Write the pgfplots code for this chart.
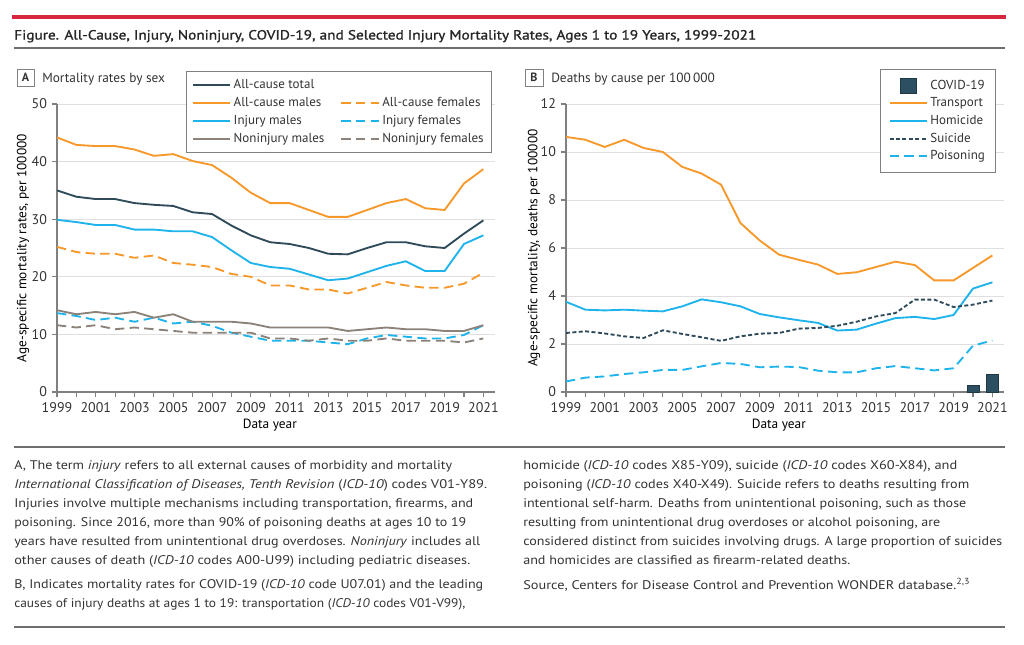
\documentclass[border=0pt]{standalone}
\usepackage{pgfplots}
\pgfplotsset{compat=1.18}
\usepackage{pgfplotstable}
\usepackage{graphicx}
\usepackage{fontspec}
\setmainfont{PT Sans}

\definecolor{slate}{HTML}{2F4B5A}
\definecolor{orng}{HTML}{F7982B}
\definecolor{sky}{HTML}{1FB3EC}
\definecolor{taupe}{HTML}{8C8279}
\definecolor{jamared}{HTML}{D7263D}
\definecolor{rulegray}{HTML}{6E6E6E}
\definecolor{txt}{HTML}{333333}
\definecolor{covid}{HTML}{2C5061}

% panel A: rates by sex
\pgfplotstableread{
year total males females injm injf nonm nonf
1999 35.0 44.2 25.2 29.9 13.7 14.2 11.6
2000 33.9 42.9 24.3 29.5 13.2 13.5 11.2
2001 33.5 42.7 24.0 29.0 12.5 13.9 11.6
2002 33.5 42.7 24.0 29.0 12.9 13.5 10.9
2003 32.8 42.1 23.3 28.2 12.2 13.9 11.2
2004 32.5 41.0 23.7 28.2 12.9 12.9 10.9
2005 32.3 41.3 22.4 27.9 11.9 13.5 10.6
2006 31.2 40.1 22.1 27.9 12.2 12.2 10.3
2007 30.9 39.4 21.7 26.9 11.5 12.2 10.3
2008 28.9 37.2 20.5 24.6 10.3 12.2 10.3
2009 27.2 34.6 20.0 22.4 9.6 11.9 10.3
2010 26.0 32.8 18.5 21.7 8.9 11.2 9.3
2011 25.7 32.8 18.5 21.4 8.9 11.2 9.3
2012 25.0 31.6 17.8 20.4 8.9 11.2 8.9
2013 24.0 30.4 17.8 19.4 8.6 11.2 9.3
2014 23.9 30.4 17.1 19.7 8.3 10.6 8.9
2015 25.0 31.6 18.1 20.8 9.3 10.9 8.9
2016 26.0 32.8 19.1 21.9 9.9 11.2 9.3
2017 26.0 33.5 18.5 22.7 9.6 10.9 8.9
2018 25.3 31.9 18.1 21.0 9.3 10.9 8.9
2019 25.0 31.6 18.1 21.0 9.3 10.6 8.9
2020 27.5 36.2 18.8 25.7 9.9 10.6 8.6
2021 29.8 38.7 20.7 27.2 11.6 11.6 9.3
}\ratesA

% panel B: deaths by cause
\pgfplotstableread{
year transport homicide suicide poisoning
1999 10.63 3.76 2.46 0.44
2000 10.51 3.43 2.53 0.60
2001 10.21 3.40 2.44 0.65
2002 10.51 3.43 2.32 0.75
2003 10.17 3.39 2.25 0.82
2004 10.00 3.36 2.57 0.92
2005 9.38 3.57 2.42 0.92
2006 9.10 3.86 2.28 1.07
2007 8.64 3.74 2.13 1.21
2008 7.04 3.57 2.32 1.17
2009 6.31 3.25 2.43 1.03
2010 5.72 3.11 2.46 1.06
2011 5.51 2.99 2.64 1.04
2012 5.31 2.88 2.67 0.89
2013 4.92 2.56 2.76 0.82
2014 4.99 2.60 2.93 0.82
2015 5.21 2.85 3.15 0.99
2016 5.43 3.08 3.29 1.08
2017 5.29 3.13 3.85 0.99
2018 4.65 3.04 3.85 0.90
2019 4.65 3.21 3.54 0.99
2020 5.17 4.31 3.64 1.93
2021 5.69 4.57 3.81 2.15
}\causesB

\tikzset{
  ln/.style={line width=1.4pt},
  dsh/.style={dash pattern=on 7pt off 4pt},
}

\pgfplotsset{
  panel/.style={
    scale only axis, width=328.5pt, height=216pt,
    anchor=south west,
    axis lines=left, axis line style={-, draw=gray, line width=0.8pt},
    xmin=1999, xmax=2021.6,
    xtick={1999,2001,...,2021}, minor xtick={2000,2002,...,2020},
    tick align=outside, major tick length=4pt, minor tick length=4pt,
    tick style={draw=gray, line width=0.8pt},
    ymajorgrids, grid style={draw=gray!25, line width=0.6pt},
    x tick label style={/pgf/number format/1000 sep=},
    /pgf/number format/assume math mode=true,
    tick label style={font=\fontsize{10.5}{12}\selectfont, text=txt},
    label style={font=\fontsize{10.5}{12}\selectfont, text=txt},
    every axis x label/.style={at={(axis description cs:0.486,-0.115)}, anchor=center},
    xlabel={Data year},
    legend cell align=left,
    legend style={draw=gray, line width=0.8pt, font=\fontsize{9.75}{11}\selectfont,
      text=txt, inner xsep=4pt, inner ysep=4pt, row sep=1pt},
    legend image code/.code={\draw[#1] (0pt,0pt) -- (28pt,0pt);},
  },
}

\newcommand\cl[4]{\node[anchor=base west, inner sep=0, text=txt] at (#1,#2)
  {\resizebox{#3}{\height}{\fontsize{9.4}{11}\selectfont #4}};}

\begin{document}
\begin{tikzpicture}[x=0.75pt, y=-0.75pt]
\path[use as bounding box] (0,0) rectangle (1024,644);

% header
\draw[jamared, line width=2.4pt] (12,17) -- (1006,17);
\node[anchor=base west, inner sep=0, text=black!85] at (14,39.5)
  {\resizebox{556.5pt}{\height}{\fontsize{10}{12}\selectfont\addfontfeatures{FakeBold=1.2}Figure. All-Cause, Injury, Noninjury, COVID-19, and Selected Injury Mortality Rates, Ages 1 to 19 Years, 1999-2021}};
\draw[rulegray, line width=1.5pt] (14,48) -- (1005,48);

% panel captions
\draw[gray, line width=0.7pt] (17,69) rectangle (34,86);
\node[text=txt, font=\bfseries\fontsize{9}{10}\selectfont] at (25.5,77.5) {A};
\node[anchor=base west, inner sep=0, text=txt, font=\fontsize{10}{12}\selectfont] at (42,82) {Mortality rates by sex};
\draw[gray, line width=0.7pt] (525,69) rectangle (543,86);
\node[text=txt, font=\bfseries\fontsize{9}{10}\selectfont] at (534,77.5) {B};
\node[anchor=base west, inner sep=0, text=txt, font=\fontsize{10}{12}\selectfont] at (551,82) {Deaths by cause per 100\,000};

\coordinate (Aorig) at (57,392);
\coordinate (Borig) at (566,392);

\begin{axis}[panel, at={(Aorig)},
  ymin=0, ymax=50, ytick={0,10,...,50},
  ylabel={Age-specific mortality rates, per 100000},
  every axis y label/.style={at={(axis description cs:-0.0776,0.5)}, rotate=90, anchor=center},
  legend columns=2,
  legend style={at={(0.2945,1.1146)}, anchor=north west,
    /tikz/every even column/.append style={column sep=10pt}},
]
\addplot[ln, slate] table[x=year, y=total] {\ratesA};
\addlegendentry{All-cause total}
\addlegendimage{empty legend}
\addlegendentry{}
\addplot[ln, orng] table[x=year, y=males] {\ratesA};
\addlegendentry{All-cause males}
\addplot[ln, orng, dsh] table[x=year, y=females] {\ratesA};
\addlegendentry{All-cause females}
\addplot[ln, sky] table[x=year, y=injm] {\ratesA};
\addlegendentry{Injury males}
\addplot[ln, sky, dsh] table[x=year, y=injf] {\ratesA};
\addlegendentry{Injury females}
\addplot[ln, taupe] table[x=year, y=nonm] {\ratesA};
\addlegendentry{Noninjury males}
\addplot[ln, taupe, dsh] table[x=year, y=nonf] {\ratesA};
\addlegendentry{Noninjury females}
\end{axis}

\begin{axis}[panel, at={(Borig)},
  ymin=0, ymax=12, ytick={0,2,...,12},
  ylabel={Age-specific mortality, deaths per 100000},
  every axis y label/.style={at={(axis description cs:-0.073,0.5)}, rotate=90, anchor=center},
  legend style={at={(0.717,1.1215)}, anchor=north west, inner xsep=6pt, inner ysep=6pt, row sep=0.8pt},
]
\addplot[ybar, bar width=9pt, fill=covid, draw=covid!70!black, line width=0.6pt,
  legend image code/.code={\draw[fill=covid, draw=covid!70!black, line width=0.6pt] (8pt,-5.5pt) rectangle (20pt,5.5pt);}]
  coordinates {(2020,0.26) (2021,0.72)};
\addlegendentry{COVID-19}
\addplot[ln, orng] table[x=year, y=transport] {\causesB};
\addlegendentry{Transport}
\addplot[ln, sky,
  legend image code/.code={\draw[line width=1.4pt, sky] (0pt,0pt) -- (28pt,0pt);}]
  table[x=year, y=homicide] {\causesB};
\addlegendentry{Homicide}
\addplot[ln, slate, dash pattern=on 3pt off 1.8pt] table[x=year, y=suicide] {\causesB};
\addlegendentry{Suicide}
\addplot[ln, sky, dsh] table[x=year, y=poisoning] {\causesB};
\addlegendentry{Poisoning}
\end{axis}

\draw[rulegray, line width=1.5pt] (14,447) -- (1005,447);

% notes, left column
\cl{14}{469.3}{328.5pt}{A, The term \textit{injury} refers to all external causes of morbidity and mortality}
\cl{14}{488.4}{354.75pt}{\textit{International Classification of Diseases, Tenth Revision} (\textit{ICD-10}) codes V01-Y89.}
\cl{14}{507.5}{344.25pt}{Injuries involve multiple mechanisms including transportation, firearms, and}
\cl{14}{526.6}{339pt}{poisoning. Since 2016, more than 90\% of poisoning deaths at ages 10 to 19}
\cl{14}{545.7}{349.5pt}{years have resulted from unintentional drug overdoses. \textit{Noninjury} includes all}
\cl{14}{564.8}{342pt}{other causes of death (\textit{ICD-10} codes A00-U99) including pediatric diseases.}
\cl{14}{588.7}{351.75pt}{B, Indicates mortality rates for COVID-19 (\textit{ICD-10} code U07.01) and the leading}
\cl{14}{607.8}{338.25pt}{causes of injury deaths at ages 1 to 19: transportation (\textit{ICD-10} codes V01-V99),}
% notes, right column
\cl{523}{469.3}{325.5pt}{homicide (\textit{ICD-10} codes X85-Y09), suicide (\textit{ICD-10} codes X60-X84), and}
\cl{523}{488.4}{334.5pt}{poisoning (\textit{ICD-10} codes X40-X49). Suicide refers to deaths resulting from}
\cl{523}{507.5}{332.25pt}{intentional self-harm. Deaths from unintentional poisoning, such as those}
\cl{523}{526.6}{312.75pt}{resulting from unintentional drug overdoses or alcohol poisoning, are}
\cl{523}{545.7}{359.25pt}{considered distinct from suicides involving drugs. A large proportion of suicides}
\cl{523}{564.8}{245.25pt}{and homicides are classified as firearm-related deaths.}
\cl{523}{589.7}{335.25pt}{Source, Centers for Disease Control and Prevention WONDER database.\textsuperscript{2,3}}

\draw[rulegray, line width=1.5pt] (14,627) -- (1005,627);
\end{tikzpicture}
\end{document}
